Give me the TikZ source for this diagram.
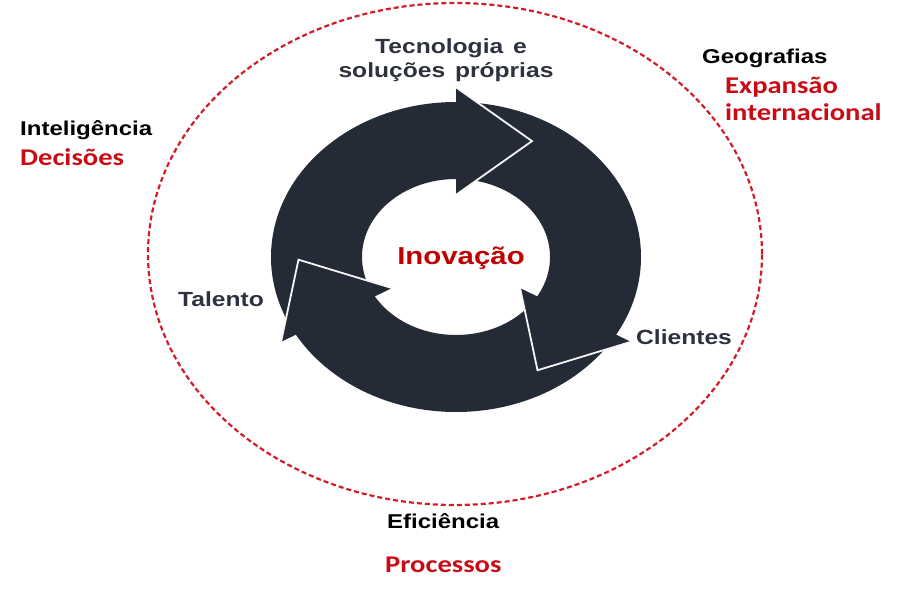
\documentclass[tikz,border=0pt]{standalone}
\usepackage{fontspec}
\usepackage{tikz}
\newfontfamily\arialwide[FakeStretch=1.2]{Liberation Sans}
\newfontfamily\calibriwide[FakeStretch=1.19]{Carlito}
\definecolor{ringdark}{RGB}{37,43,54}
\definecolor{labelgray}{RGB}{45,50,62}
\definecolor{decired}{RGB}{200,12,22}
\definecolor{centerred}{RGB}{192,0,0}
\definecolor{dashred}{RGB}{212,28,38}

\begin{document}
\begin{tikzpicture}[x=1pt,y=-1pt,
    graylabel/.style={text=labelgray,inner sep=0pt,font={\arialwide\bfseries\fontsize{20.5}{24}\selectfont}},
    blacklabel/.style={text=black,inner sep=0pt,font={\arialwide\bfseries\fontsize{20}{24}\selectfont}},
    redlabel/.style={text=decired,inner sep=0pt,font={\calibriwide\bfseries\fontsize{24}{28}\selectfont}},
    centerlabel/.style={text=centerred,inner sep=0pt,font={\arialwide\bfseries\fontsize{24.5}{28}\selectfont}},
    headedge/.style={draw=white!92!gray,line width=1.8pt,line join=miter}]
        \useasboundingbox (0,0) rectangle (909,600);

        % outer dashed frame
        \draw[dashred,line width=2.2pt,dash pattern=on 5pt off 3pt] (455,254) ellipse [x radius=307pt, y radius=251pt];

        % the ring
        \fill[ringdark,even odd rule] (456,257) ellipse [x radius=185pt, y radius=155pt]
            (456,257) ellipse [x radius=94pt, y radius=78pt];

        % edit here for the three arrow heads
        \foreach \k in {0,1,2} {
        \begin{scope}[shift={(456,257)},yscale=0.84,rotate=-120*\k]
            \fill[ringdark] (0,-202) -- (76,-138) -- (0,-74) -- cycle;
            \draw[headedge] (0,-202) -- (76,-138) -- (0,-74);
        \end{scope}
        }

        % labels of the cycle
        \node[graylabel,anchor=base] (tecnologia) at (451,53) {Tecnologia\hspace{3pt} e};
        \node[graylabel,anchor=base] (solucoes) at (446,77) {soluções\hspace{3pt} próprias};
        \node[graylabel,anchor=base west] (talento) at (178,306) {Talento};
        \node[graylabel,anchor=base west] (clientes) at (636,344) {Clientes};
        \node[centerlabel,anchor=base] (inovacao) at (461,264) {Inovação};

        % labels round the frame
        \node[blacklabel,anchor=base west] (inteligencia) at (20,135) {Inteligência};
        \node[redlabel,anchor=base west] (decisoes) at (20,165) {Decisões};
        \node[blacklabel,anchor=base west] (geografias) at (702,63) {Geografias};
        \node[redlabel,anchor=base west] (expansao) at (725,93) {Expansão};
        \node[redlabel,anchor=base west] (internacional) at (725,120) {internacional};
        \node[blacklabel,anchor=base west] (eficiencia) at (387,528) {Eficiência};
        \node[redlabel,anchor=base west] (processos) at (385,572) {Processos};
    \end{tikzpicture}
\end{document}
